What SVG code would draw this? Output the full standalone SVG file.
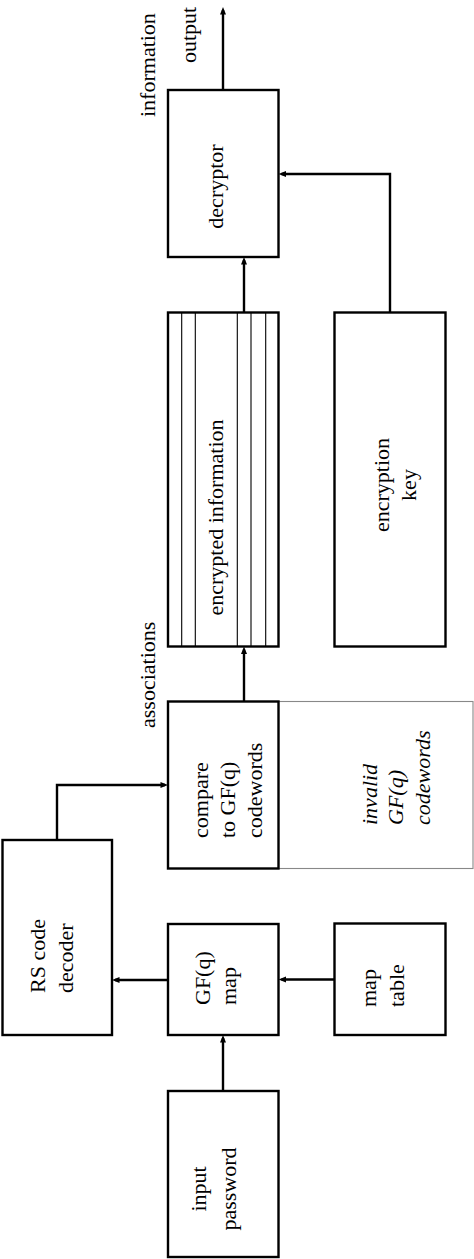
<svg xmlns="http://www.w3.org/2000/svg" width="474" height="1259" viewBox="0 0 474 1259">
<style>
.box{fill:#fff;stroke:#000;stroke-width:2.4;stroke-linejoin:miter}
.thin{fill:#fff;stroke:#888;stroke-width:1.1}
.sep{stroke:#000;stroke-width:1.1;fill:none}
.conn{fill:none;stroke:#000;stroke-width:2.4;marker-end:url(#ah)}
text{font-family:"Liberation Serif","Times New Roman",serif;font-size:22px;fill:#000}
.c{text-anchor:middle}
.s{text-anchor:start}
.it{font-style:italic}
</style>
<defs>
<marker id="ah" markerUnits="userSpaceOnUse" viewBox="-6 -4 10 8" refX="0" refY="0" markerWidth="10" markerHeight="8" orient="auto">
<path d="M-4.5,-3 L3,0 L-4.5,3 z" fill="#000"/>
</marker>
</defs>
<rect width="474" height="1259" fill="#fff"/>

<g id="invalid">
<rect class="thin" x="278.5" y="701.5" width="194.5" height="167"/>
<text class="s it" transform="rotate(-90)"><tspan x="-825" y="377">invalid</tspan><tspan x="-825" y="403">GF(q)</tspan><tspan x="-825" y="430">codewords</tspan></text>
</g>

<g id="decryptor">
<rect class="box" x="168" y="90" width="110.5" height="167"/>
<text class="c" transform="rotate(-90)" x="-186.5" y="222.5">decryptor</text>
</g>

<g id="encrypted">
<rect class="box" x="168" y="312.5" width="110.5" height="334"/>
<path class="sep" d="M181.7,312.5V646.5M195.3,312.5V646.5M237.3,312.5V646.5M251,312.5V646.5M265.7,312.5V646.5"/>
<text class="c" transform="rotate(-90)" x="-517.5" y="223">encrypted information</text>
</g>

<g id="key">
<rect class="box" x="334.5" y="312.5" width="111" height="334"/>
<text class="c" transform="rotate(-90)"><tspan x="-485" y="389">encryption</tspan><tspan x="-485" y="416">key</tspan></text>
</g>

<g id="compare">
<rect class="box" x="168" y="701.5" width="110.5" height="167"/>
<text class="s" transform="rotate(-90)"><tspan x="-838" y="208">compare</tspan><tspan x="-838" y="235">to GF(q)</tspan><tspan x="-838" y="262">codewords</tspan></text>
</g>

<g id="rsdecoder">
<rect class="box" x="2.5" y="840" width="109.5" height="195"/>
<text class="s" transform="rotate(-90)"><tspan x="-993" y="45">RS code</tspan><tspan x="-993" y="73">decoder</tspan></text>
</g>

<g id="gfmap">
<rect class="box" x="168" y="924" width="110.5" height="111"/>
<text class="s" transform="rotate(-90)"><tspan x="-1005" y="210">GF(q)</tspan><tspan x="-1005" y="236">map</tspan></text>
</g>

<g id="maptable">
<rect class="box" x="334.5" y="923.5" width="111" height="111.5"/>
<text class="s" transform="rotate(-90)"><tspan x="-1007" y="376">map</tspan><tspan x="-1007" y="404">table</tspan></text>
</g>

<g id="input">
<rect class="box" x="168" y="1091" width="110.5" height="166"/>
<text class="c" transform="rotate(-90)"><tspan x="-1189" y="206">input</tspan><tspan x="-1189" y="236">password</tspan></text>
</g>

<g id="labels">
<text class="s" transform="rotate(-90)" x="-117" y="155">information</text>
<text class="s" transform="rotate(-90)" x="-63" y="196">output</text>
<text class="s" transform="rotate(-90)" x="-728" y="155">associations</text>
</g>

<g id="connectors">
<path class="conn" d="M223,90 L223,10"/>
<path class="conn" d="M244,312.5 L244,260"/>
<path class="conn" d="M390,312.5 L390,174 L281.5,174"/>
<path class="conn" d="M244,701.5 L244,649.5"/>
<path class="conn" d="M57,840 L57,785 L165,785"/>
<path class="conn" d="M168,980 L115,980"/>
<path class="conn" d="M334.5,979.5 L281.5,979.5"/>
<path class="conn" d="M223,1091 L223,1038"/>
</g>
</svg>
